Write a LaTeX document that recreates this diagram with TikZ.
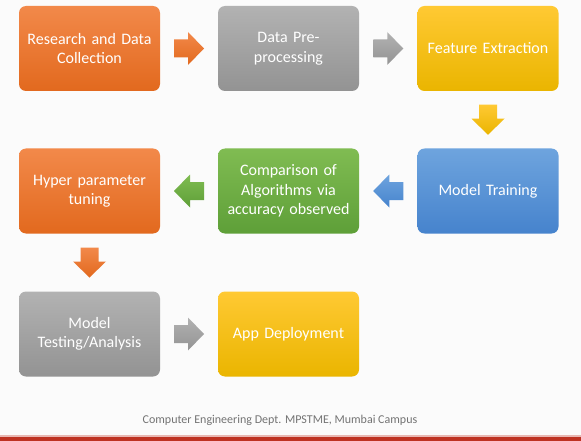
\documentclass[tikz,border=0pt]{standalone}
\usepackage{fontspec}
\setmainfont{Carlito}
\usetikzlibrary{calc}

\definecolor{orangeT}{HTML}{F2894A}
\definecolor{orangeB}{HTML}{E2691E}
\definecolor{greyT}{HTML}{B2B2B2}
\definecolor{greyB}{HTML}{939393}
\definecolor{yellowT}{HTML}{FFC933}
\definecolor{yellowB}{HTML}{EAB500}
\definecolor{blueT}{HTML}{6EA4DE}
\definecolor{blueB}{HTML}{4683CD}
\definecolor{greenT}{HTML}{80BC52}
\definecolor{greenB}{HTML}{5E9F38}
\definecolor{footred}{HTML}{BE3222}

\begin{document}
\begin{tikzpicture}[x=1pt, y=-1pt,
  stepbox/.style={rounded corners=7pt, minimum width=141pt, minimum height=85pt,
    text width=136pt, align=center, text=white, inner sep=0pt,
    font=\fontsize{16}{19.5}\selectfont},
  blockarrow/.pic={
    \path[pic actions] (-15,-9) -- (-1,-9) -- (-1,-16.5) -- (15,0)
      -- (-1,16.5) -- (-1,9) -- (-15,9) -- cycle;}]
  % page and footer
  \fill[white!97!gray] (0,0) rectangle (581,441);
  \useasboundingbox (0,0) rectangle (581,441);
  \fill[footred!35] (0,435) rectangle (581,437);
  \fill[footred] (0,437) rectangle (581,441);
  \node[text=gray!90!black, font=\fontsize{12}{14}\selectfont] (foot) at (280,420)
    {Computer Engineering Dept. MPSTME, Mumbai Campus};
  % first row
  \node[stepbox, top color=orangeT, bottom color=orangeB] (research) at (89.5,48.5) {Research and Data\\Collection};
  \node[stepbox, top color=greyT, bottom color=greyB] (prep) at (288.5,48.5) {Data Pre-\\processing};
  \node[stepbox, top color=yellowT, bottom color=yellowB] (feature) at (488,48.5) {Feature Extraction};
  % second row
  \node[stepbox, top color=orangeT, bottom color=orangeB] (tuning) at (89.5,191) {Hyper parameter\\tuning};
  \node[stepbox, top color=greenT, bottom color=greenB] (compare) at (288.5,191) {Comparison of\\Algorithms via\\accuracy observed};
  \node[stepbox, top color=blueT, bottom color=blueB] (training) at (488,191) {Model Training};
  % third row
  \node[stepbox, top color=greyT, bottom color=greyB] (testing) at (89.5,334) {Model\\Testing/Analysis};
  \node[stepbox, top color=yellowT, bottom color=yellowB] (deploy) at (288.5,334) {App Deployment};
  % block arrows between the steps
  \pic[top color=orangeT, bottom color=orangeB] (a1) at ($(research.east)!0.5!(prep.west)$) {blockarrow};
  \pic[top color=greyT, bottom color=greyB] (a2) at ($(prep.east)!0.5!(feature.west)$) {blockarrow};
  \pic[rotate=270, top color=yellowT, bottom color=yellowB] (a3) at ($(feature.south)!0.5!(training.north)$) {blockarrow};
  \pic[rotate=180, top color=blueT, bottom color=blueB] (a4) at ($(training.west)!0.5!(compare.east)$) {blockarrow};
  \pic[rotate=180, top color=greenT, bottom color=greenB] (a5) at ($(compare.west)!0.5!(tuning.east)$) {blockarrow};
  \pic[rotate=270, top color=orangeT, bottom color=orangeB] (a6) at ($(tuning.south)!0.5!(testing.north)$) {blockarrow};
  \pic[top color=greyT, bottom color=greyB] (a7) at ($(testing.east)!0.5!(deploy.west)$) {blockarrow};
\end{tikzpicture}
\end{document}
